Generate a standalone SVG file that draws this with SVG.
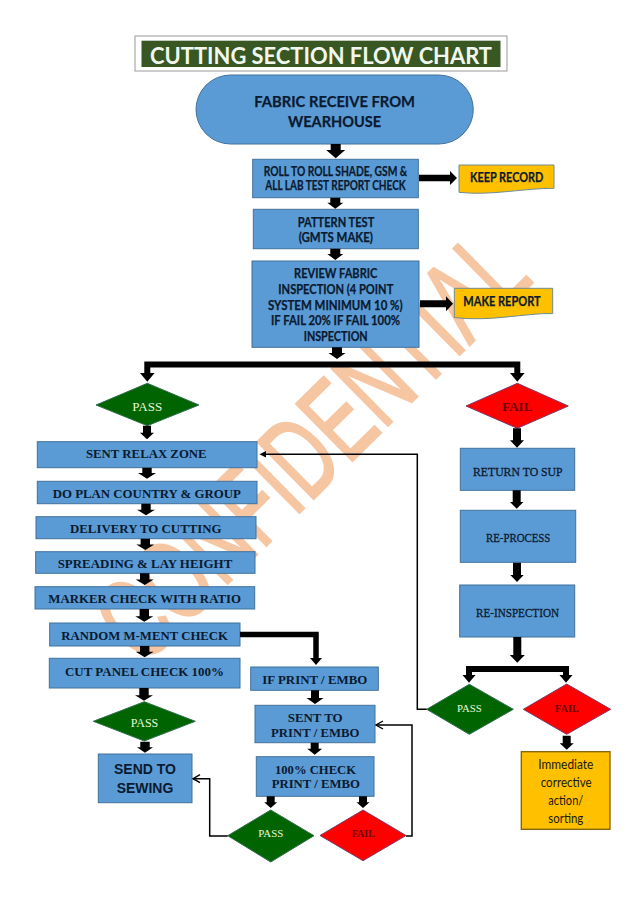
<svg xmlns="http://www.w3.org/2000/svg" width="638" height="902" viewBox="0 0 638 902">
<style>
.b{fill:#5b9bd5;stroke:#41719c;stroke-width:1}
.y{fill:#ffc000;stroke:#6f8a8f;stroke-width:1}
.g{fill:#006400;stroke:#2f6f4f;stroke-width:1}
.r{fill:#ff0000;stroke:#7a3a6a;stroke-width:1}
text{text-anchor:middle}
.c{font-family:Lato,"Open Sans","Liberation Sans",sans-serif;font-weight:700;fill:#0a1a30;stroke:#0a1a30;stroke-width:.25;font-size:12.5px}
.t{font-family:"Liberation Serif",serif;font-weight:700;fill:#0a1a30;font-size:13.2px}
.s{font-family:"Liberation Serif",serif;font-weight:400;fill:#0a1a30;stroke:#0a1a30;stroke-width:.3;font-size:13px}
.w{font-family:"Liberation Serif",serif;fill:#e8f8d8;font-size:12px}
.f{font-family:"Liberation Serif",serif;font-weight:700;fill:#6a0000;font-size:12px}
.i{font-family:Lato,"Open Sans","Liberation Sans",sans-serif;font-size:12.5px;fill:#1a1a10}
.e{font-family:"Liberation Sans",sans-serif;font-weight:700;font-size:14px;fill:#0a1a30}
.l{fill:none;stroke:#000;stroke-width:1.5}
.k{fill:none;stroke:#000;stroke-width:6}
.h{fill:#000}
</style>
<defs>
<marker id="o" viewBox="0 0 10 10" refX="9" refY="5" markerWidth="10" markerHeight="10" markerUnits="userSpaceOnUse" orient="auto"><path d="M2 1L9 5L2 9" fill="none" stroke="#000" stroke-width="1.4"/></marker>
</defs>
<g id="watermark"><text transform="translate(143,667) rotate(-44.600)" x="0" y="0" textLength="550" lengthAdjust="spacingAndGlyphs" style="text-anchor:start;font-family:'Liberation Sans',sans-serif;font-size:116px;fill:#f6c6a2;stroke:#f6c6a2;stroke-width:2.500">CONFIDENTIAL</text></g>
<g id="title"><rect x="135" y="36" width="372" height="35" fill="#fff" stroke="#999"/><rect x="141.500" y="40.700" width="359" height="26.300" fill="#385723"/><text x="321" y="64" textLength="342" lengthAdjust="spacingAndGlyphs" style="font-family:Lato,'Open Sans','Liberation Sans',sans-serif;font-weight:700;font-size:22.500px;fill:#f2f7ee">CUTTING SECTION FLOW CHART</text></g>
<g id="n-fabric"><rect class="b" x="196" y="75" width="277.300" height="69" rx="34.500" ry="34.500"/><text class="c" style="font-size:15.500px" x="334.700" y="106.700" textLength="160.700" lengthAdjust="spacingAndGlyphs">FABRIC RECEIVE FROM</text><text class="c" style="font-size:15.500px" x="334.500" y="127" textLength="93" lengthAdjust="spacingAndGlyphs">WEARHOUSE</text></g>
<g id="n-roll"><rect class="b" x="252.700" y="159.300" width="165.600" height="38.400"/><text class="c" x="335.500" y="176" textLength="143.600" lengthAdjust="spacingAndGlyphs">ROLL TO ROLL SHADE, GSM &amp;</text><text class="c" x="335.500" y="190.300" textLength="140.400" lengthAdjust="spacingAndGlyphs">ALL LAB TEST REPORT CHECK</text></g>
<g id="n-keep"><path class="y" d="M459 165H554V188.300C525 188 490 196 459 192.300Z"/><text class="c" x="506.700" y="182.300" textLength="73.300" lengthAdjust="spacingAndGlyphs">KEEP RECORD</text></g>
<g id="n-pattern"><rect class="b" x="253.300" y="209.300" width="165" height="39.400"/><text class="c" x="336" y="226.700" textLength="76.600" lengthAdjust="spacingAndGlyphs">PATTERN TEST</text><text class="c" x="335.800" y="242.300" textLength="74.300" lengthAdjust="spacingAndGlyphs">(GMTS MAKE)</text></g>
<g id="n-review"><rect class="b" x="252" y="261" width="167" height="86.300"/><text class="c" x="335.700" y="278.300" textLength="83.300" lengthAdjust="spacingAndGlyphs">REVIEW FABRIC</text><text class="c" x="335.800" y="294" textLength="115" lengthAdjust="spacingAndGlyphs">INSPECTION (4 POINT</text><text class="c" x="335.300" y="309.700" textLength="134.700" lengthAdjust="spacingAndGlyphs">SYSTEM MINIMUM 10 %)</text><text class="c" x="335.500" y="325.300" textLength="129" lengthAdjust="spacingAndGlyphs">IF FAIL 20% IF FAIL 100%</text><text class="c" x="335.700" y="341" textLength="64" lengthAdjust="spacingAndGlyphs">INSPECTION</text></g>
<g id="n-make"><path class="y" d="M454.300 288.300H552.700V313.500C525 313 490 322 454.300 317.500Z"/><text class="c" x="502" y="305.700" textLength="77.400" lengthAdjust="spacingAndGlyphs">MAKE REPORT</text></g>
<g id="n-pass1"><polygon class="g" points="147.300,383.300 199,405 147.300,425.700 96,405"/><text class="w" style="font-size:13px" x="147.300" y="411" textLength="30" lengthAdjust="spacingAndGlyphs">PASS</text></g>
<g id="n-fail1"><polygon class="r" points="517.300,383.300 568.300,406 517.300,428.300 466,406"/><text class="f" style="font-size:13px" x="517.300" y="411" textLength="30" lengthAdjust="spacingAndGlyphs">FAIL</text></g>
<g id="n-relax"><rect class="b" x="37.300" y="441.700" width="219.700" height="26"/><text class="t" x="146.300" y="458.300" textLength="120.700" lengthAdjust="spacingAndGlyphs">SENT RELAX ZONE</text></g>
<g id="n-plan"><rect class="b" x="37.300" y="481.300" width="219.700" height="22.400"/><text class="t" x="146.800" y="497.700" textLength="188.300" lengthAdjust="spacingAndGlyphs">DO PLAN COUNTRY &amp; GROUP</text></g>
<g id="n-delivery"><rect class="b" x="36" y="516.700" width="220" height="22"/><text class="t" x="145.800" y="533.300" textLength="151.700" lengthAdjust="spacingAndGlyphs">DELIVERY TO CUTTING</text></g>
<g id="n-spreading"><rect class="b" x="35.700" y="551.700" width="219.300" height="21.600"/><text class="t" x="145" y="567.700" textLength="174.600" lengthAdjust="spacingAndGlyphs">SPREADING &amp; LAY HEIGHT</text></g>
<g id="n-marker"><rect class="b" x="35" y="586.700" width="219.700" height="22.300"/><text class="t" x="144.700" y="603.300" textLength="192.700" lengthAdjust="spacingAndGlyphs">MARKER CHECK WITH RATIO</text></g>
<g id="n-random"><rect class="b" x="49.700" y="623" width="190.300" height="23"/><text class="t" x="144.700" y="640" textLength="166.700" lengthAdjust="spacingAndGlyphs">RANDOM M-MENT CHECK</text></g>
<g id="n-cut"><rect class="b" x="49.300" y="658.300" width="190.700" height="29.700"/><text class="t" x="144.500" y="675.700" textLength="159" lengthAdjust="spacingAndGlyphs">CUT PANEL CHECK 100%</text></g>
<g id="n-pass2"><polygon class="g" points="144.300,701.700 195.300,721.300 144.300,741 93.300,721.300"/><text class="w" x="144.500" y="727.300" textLength="27.600" lengthAdjust="spacingAndGlyphs">PASS</text></g>
<g id="n-sewing"><rect class="b" x="98.300" y="754" width="93.700" height="48.700"/><text class="e" x="145" y="774.300" textLength="62" lengthAdjust="spacingAndGlyphs">SEND TO</text><text class="e" x="145" y="792.700" textLength="56.600" lengthAdjust="spacingAndGlyphs">SEWING</text></g>
<g id="n-ifprint"><rect class="b" x="250.700" y="667" width="127.600" height="23.300"/><text class="t" x="314.800" y="684" textLength="105" lengthAdjust="spacingAndGlyphs">IF PRINT / EMBO</text></g>
<g id="n-sentprint"><rect class="b" x="255" y="705.300" width="120" height="37.400"/><text class="t" x="315.200" y="722" textLength="55" lengthAdjust="spacingAndGlyphs">SENT TO</text><text class="t" x="315.200" y="737" textLength="88.300" lengthAdjust="spacingAndGlyphs">PRINT / EMBO</text></g>
<g id="n-check"><rect class="b" x="256.300" y="756.700" width="117.700" height="39.600"/><text class="t" x="315.500" y="773.700" textLength="81" lengthAdjust="spacingAndGlyphs">100% CHECK</text><text class="t" x="315.800" y="788.300" textLength="88.300" lengthAdjust="spacingAndGlyphs">PRINT / EMBO</text></g>
<g id="n-pass3"><polygon class="g" points="270.700,810 314,835.700 270.700,862 227.700,835.700"/><text class="w" style="font-size:11px" x="270.800" y="837.300" textLength="25" lengthAdjust="spacingAndGlyphs">PASS</text></g>
<g id="n-fail3"><polygon class="r" points="363,810 406,835.500 363,860.700 320,835.500"/><text class="f" style="font-size:11px" x="363.300" y="837.300" textLength="23.300" lengthAdjust="spacingAndGlyphs">FAIL</text></g>
<g id="n-return"><rect class="b" x="460.300" y="448.300" width="114.400" height="42"/><text class="s" x="517.800" y="475.700" textLength="89.700" lengthAdjust="spacingAndGlyphs">RETURN TO SUP</text></g>
<g id="n-reprocess"><rect class="b" x="460.300" y="510.300" width="115.400" height="52"/><text class="s" x="518.200" y="542.300" textLength="64.300" lengthAdjust="spacingAndGlyphs">RE-PROCESS</text></g>
<g id="n-reinspection"><rect class="b" x="459.700" y="585" width="115" height="52"/><text class="s" x="517.500" y="617.300" textLength="83" lengthAdjust="spacingAndGlyphs">RE-INSPECTION</text></g>
<g id="n-pass4"><polygon class="g" points="469.300,684.300 513.300,709.300 469.300,734.300 426.700,709.300"/><text class="w" style="font-size:11px" x="469.300" y="711.700" textLength="24.700" lengthAdjust="spacingAndGlyphs">PASS</text></g>
<g id="n-fail4"><polygon class="r" points="566.700,684 610.700,709.300 566.700,734.300 523.300,709.300"/><text class="f" style="font-size:11px" x="567" y="711.700" textLength="24" lengthAdjust="spacingAndGlyphs">FAIL</text></g>
<g id="n-immediate"><rect x="521.300" y="751.700" width="88.700" height="77.600" fill="#ffc000" stroke="#7f6000" stroke-width="1.300"/><text class="i" x="565.800" y="768.700" textLength="55" lengthAdjust="spacingAndGlyphs">Immediate</text><text class="i" x="566.200" y="786.700" textLength="51" lengthAdjust="spacingAndGlyphs">corrective</text><text class="i" x="565.800" y="805" textLength="35" lengthAdjust="spacingAndGlyphs">action/</text><text class="i" x="565.800" y="822.700" textLength="35" lengthAdjust="spacingAndGlyphs">sorting</text></g>
<g id="connectors">
<path class="h" d="M330.700 144v6h-4.500l9.500 8.300 9.500-8.300h-4.500v-6z"/>
<path class="h" d="M330.300 197.700v5h-3l8 6 8-6h-3v-5z"/>
<path class="h" d="M330.300 248.700v5.300h-3l8 6 8-6h-3v-5.300z"/>
<path class="h" d="M332 347.300v5.700h-3.500l8.500 6 8.500-6h-3.500v-5.700z"/>
<path class="h" d="M419 174.700h31v-3.700l7 7-7 7v-3.700h-31z"/>
<path class="h" d="M420 300.200h26v-4l7 7.500-7 7.500v-4h-26z"/>
<path class="k" d="M147.300 374V364.500H517.300V374"/>
<path class="h" d="M140 373h14.600l-7.300 8.700z"/>
<path class="h" d="M510 373h14.600l-7.300 8.700z"/>
<path class="h" d="M143 425.700v7h-3l7 6.600 7-6.600h-3v-7z"/>
<path class="h" d="M513 428.300v12h-3l7 7.400 7-7.400h-3v-12z"/>
<path class="h" d="M142.300 467.700v5.300h-4.300l9 5.700 9-5.700h-4.300v-5.300z"/>
<path class="h" d="M141.300 503.700v6h-4.300l9 5.600 9-5.600h-4.300v-6z"/>
<path class="h" d="M140.600 538.700v5.800h-4.300l9 5.500 9-5.500h-4.300v-5.800z"/>
<path class="h" d="M140 573.300v6.200h-4.300l9 5.500 9-5.500h-4.300v-6.200z"/>
<path class="h" d="M139.600 609v7.200h-4.300l9 5.500 9-5.500h-4.300v-7.200z"/>
<path class="h" d="M140 646v5.800h-4.300l9 5.500 9-5.500h-4.300v-5.800z"/>
<path class="h" d="M139.300 688v7.200h-4.300l9 5.500 9-5.500h-4.300v-7.200z"/>
<path class="h" d="M140.300 741.700v5.500h-3.300l8 5.500 8-5.500h-3.300v-5.500z"/>
<path d="M240 634.500H316V660" fill="none" stroke="#000" stroke-width="5.500"/>
<path class="h" d="M310 658h12l-6 7z"/>
<path class="h" d="M311 690.300v7.700h-4.500l8.500 6 8.500-6h-4.500v-7.700z"/>
<path class="h" d="M310.700 742.700v6h-3.500l7.500 6 7.500-6h-3.500v-6z"/>
<path class="h" d="M266.700 796.300v6h-2.500l6.500 5.700 6.500-5.700h-2.500v-6z"/>
<path class="h" d="M359 796.300v6h-2.500l6.500 5.700 6.500-5.700h-2.500v-6z"/>
<path class="h" d="M512.700 490.300v11.700h-2.700l6.700 6.700 6.700-6.700h-2.700v-11.700z"/>
<path class="h" d="M513 562.700v12.300h-2.700l6.700 7 6.700-7h-2.700v-12.300z"/>
<path class="h" d="M513.300 637v18h-3.500l7.500 7.700 7.500-7.700h-3.500v-18z"/>
<path class="k" d="M469 676V669H566V676"/>
<path class="h" d="M462.500 675h13l-6.500 7.700z"/>
<path class="h" d="M559.500 675h13l-6.500 7.700z"/>
<path class="h" d="M562.700 735.700v7.500h-3l7 6.500 7-6.500h-3v-7.500z"/>
<path class="l" d="M426.700 709.300H417.300V454.300H265"/>
<path class="h" d="M259.500 454.300l6.500-3.300v6.600z"/>
<path class="l" d="M227.700 836H209.700V778.700H193" marker-end="url(#o)"/>
<path class="l" d="M406 836H412V725H376" marker-end="url(#o)"/>
</g>
</svg>
